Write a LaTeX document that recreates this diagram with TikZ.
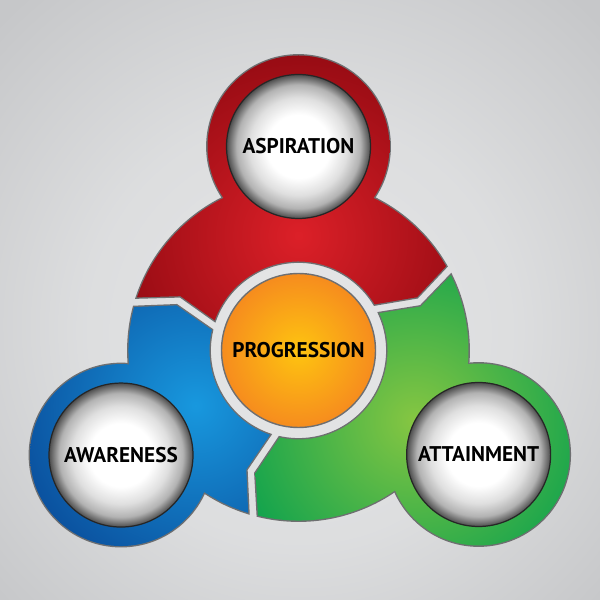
\documentclass[tikz,border=0pt]{standalone}
\usepackage{fontspec}
\setsansfont{PT Sans}
\definecolor{bglight}{RGB}{230,231,232}
\definecolor{bgdark}{RGB}{198,199,201}
\definecolor{rimgray}{RGB}{110,111,113}
\definecolor{redlight}{RGB}{220,32,40}
\definecolor{reddark}{RGB}{140,8,16}
\definecolor{bluelight}{RGB}{24,152,222}
\definecolor{bluedark}{RGB}{10,78,156}
\definecolor{greenlight}{RGB}{134,198,66}
\definecolor{greendark}{RGB}{8,160,78}
\definecolor{orangemid}{RGB}{254,196,16}
\definecolor{orangeedge}{RGB}{246,140,30}

\pgfdeclareradialshading{discshade}{\pgfpoint{0bp}{0bp}}{%
  color(0bp)=(white); color(11bp)=(white); color(17bp)=(gray!25);
  color(21.5bp)=(gray!60); color(25bp)=(gray!60!black); color(50bp)=(gray!60!black)}
\pgfdeclareradialshading{backshade}{\pgfpoint{0bp}{-4bp}}{%
  color(0bp)=(bglight); color(18bp)=(bglight!70!bgdark); color(35bp)=(bgdark); color(50bp)=(bgdark)}

% ring segment between two gap angles, with bent (chevron) ends
\newcommand{\segpath}[2]{(#1+3.2:89) -- (#1-3.8:130) -- (#1+1.7:170)
  arc[start angle=#1+1.7, end angle=#2-1.7, radius=170]
  -- (#2-8.2:130) -- (#2-3.2:89)
  arc[start angle=#2-3.2, end angle=#1+3.2, radius=89] -- cycle}

\begin{document}
\begin{tikzpicture}[
  x=0.02cm, y=0.02cm,
  every node/.style = {font=\sffamily\bfseries\fontsize{12.1}{14}\selectfont},
  disc/.style = {
    circle, draw=black!85, line width=0.7pt,
    shade, shading=discshade,
    minimum size=2.88cm, inner sep=0pt
  },
  hub/.style = {
    circle, draw=rimgray, line width=0.8pt,
    inner color=orangemid, outer color=orangeedge,
    minimum size=3.08cm, inner sep=0pt
  },
  rim/.style = {draw=rimgray, line width=1.6pt}
]

% ---- BACKGROUND ----
\shade[shading=backshade] (-298.5,-249.5) rectangle (301.5,350.5);
\useasboundingbox (-298.5,-249.5) rectangle (301.5,350.5);

% ---- SATELLITE CENTRES ----
\coordinate (c-asp) at (90:204);
\coordinate (c-awa) at (210.5:206);
\coordinate (c-att) at (330:208);

% ---- RED SEGMENT (top) ----
\draw[rim] \segpath{28}{163.5};
\draw[rim] (c-asp) circle (91);
\begin{scope}
  \clip \segpath{28}{163.5};
  \shade[inner color=redlight, outer color=reddark] (0,115) circle (210);
\end{scope}
\begin{scope}
  \clip (c-asp) circle (91);
  \shade[inner color=redlight, outer color=reddark] (0,115) circle (210);
\end{scope}

% ---- BLUE SEGMENT (bottom left) ----
\draw[rim] \segpath{163.5}{254.5};
\draw[rim] (c-awa) circle (91);
\begin{scope}
  \clip \segpath{163.5}{254.5};
  \shade[inner color=bluelight, outer color=bluedark] (-103,-55) circle (190);
\end{scope}
\begin{scope}
  \clip (c-awa) circle (91);
  \shade[inner color=bluelight, outer color=bluedark] (-103,-55) circle (190);
\end{scope}

% ---- GREEN SEGMENT (bottom right) ----
\draw[rim] \segpath{254.5}{388};
\draw[rim] (c-att) circle (91);
\begin{scope}
  \clip \segpath{254.5}{388};
  \shade[inner color=greenlight, outer color=greendark] (116,-70) circle (200);
\end{scope}
\begin{scope}
  \clip (c-att) circle (91);
  \shade[inner color=greenlight, outer color=greendark] (116,-70) circle (200);
\end{scope}

% ---- NODES ----
\node[hub]  (prog) at (0,0)   {PROGRESSION};
\node[disc] (asp)  at (c-asp) {ASPIRATION};
\node[disc] (awa)  at (c-awa) {AWARENESS};
\node[disc] (att)  at (c-att) {ATTAINMENT};

\end{tikzpicture}
\end{document}
